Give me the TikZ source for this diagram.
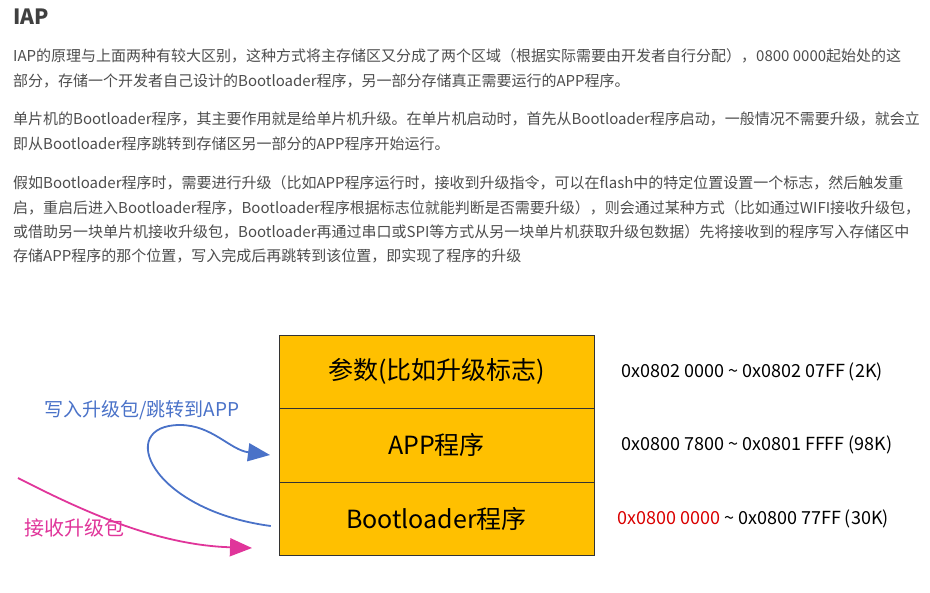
\documentclass[tikz,border=0pt]{standalone}
\usepackage{fontspec}
\setmainfont{Noto Sans CJK SC}
\usetikzlibrary{arrows.meta}
\definecolor{txt}{HTML}{4D4D4D}
\definecolor{gold}{HTML}{FFC000}
\definecolor{blu}{HTML}{4A72C8}
\definecolor{pnk}{HTML}{E0359A}
\begin{document}
\begin{tikzpicture}[x=1pt,y=-1pt,
  para/.style={anchor=base west,inner sep=0,text=txt,font=\fontsize{15}{15}\selectfont},
  mem/.style={draw=black!80,fill=gold,minimum width=315,minimum height=73.5,inner sep=0,font=\fontsize{25}{25}\selectfont},
  addr/.style={anchor=base west,inner sep=0,font=\fontsize{18}{18}\selectfont}]
\useasboundingbox (0,0) rectangle (930,593);
\node[anchor=base west,inner sep=0,text=black!75,font=\bfseries\fontsize{21}{21}\selectfont] (t) at (13,25) {IAP};
\node[para] (l1) at (13,62) {IAP的原理与上面两种有较大区别，这种方式将主存储区又分成了两个区域（根据实际需要由开发者自行分配），0800 0000起始处的这};
\node[para] (l2) at (13,87) {部分，存储一个开发者自己设计的Bootloader程序，另一部分存储真正需要运行的APP程序。};
\node[para] (l3) at (13,125) {单片机的Bootloader程序，其主要作用就是给单片机升级。在单片机启动时，首先从Bootloader程序启动，一般情况不需要升级，就会立};
\node[para] (l4) at (13,150) {即从Bootloader程序跳转到存储区另一部分的APP程序开始运行。};
\node[para] (l5) at (13,189) {假如Bootloader程序时，需要进行升级（比如APP程序运行时，接收到升级指令，可以在flash中的特定位置设置一个标志，然后触发重};
\node[para] (l6) at (13,214) {启，重启后进入Bootloader程序，Bootloader程序根据标志位就能判断是否需要升级），则会通过某种方式（比如通过WIFI接收升级包，};
\node[para] (l7) at (13,238) {或借助另一块单片机接收升级包，Bootloader再通过串口或SPI等方式从另一块单片机获取升级包数据）先将接收到的程序写入存储区中};
\node[para] (l8) at (13,262) {存储APP程序的那个位置，写入完成后再跳转到该位置，即实现了程序的升级};

\node[mem] (p) at (436.5,371.5) {参数(比如升级标志)};
\node[mem] (a) at (436.5,445) {APP程序};
\node[mem] (b) at (436.5,518.5) {Bootloader程序};
\node[addr] (ap) at (621,378) {0x0802 0000 \textasciitilde{} 0x0802 07FF (2K)};
\node[addr] (aa) at (621,451) {0x0800 7800 \textasciitilde{} 0x0801 FFFF (98K)};
\node[addr] (ab) at (617,525) {\textcolor{red!85!black}{0x0800 0000} \textasciitilde{} 0x0800 77FF (30K)};

\node[anchor=base west,inner sep=0,text=blu,font=\fontsize{19}{19}\selectfont] (wl) at (44,417) {写入升级包/跳转到APP};
\node[anchor=base west,inner sep=0,text=pnk,font=\fontsize{20}{20}\selectfont] (rl) at (24,536) {接收升级包};
\coordinate (bs) at ([xshift=-8]b.west|-0,526);
\coordinate (bt) at (270,455);
\draw[blu,line width=1.8,-{Triangle[length=22,width=18]}] (bs) .. controls (150,510) and (115,425) .. (180,425) .. controls (212,425) and (230,450) .. (bt);
\coordinate (ps) at (18,478);
\coordinate (pt) at (252,548);
\draw[pnk,line width=1.8,-{Triangle[length=22,width=18]}] (ps) .. controls (90,515) and (160,545) .. (pt);
\end{tikzpicture}
\end{document}
